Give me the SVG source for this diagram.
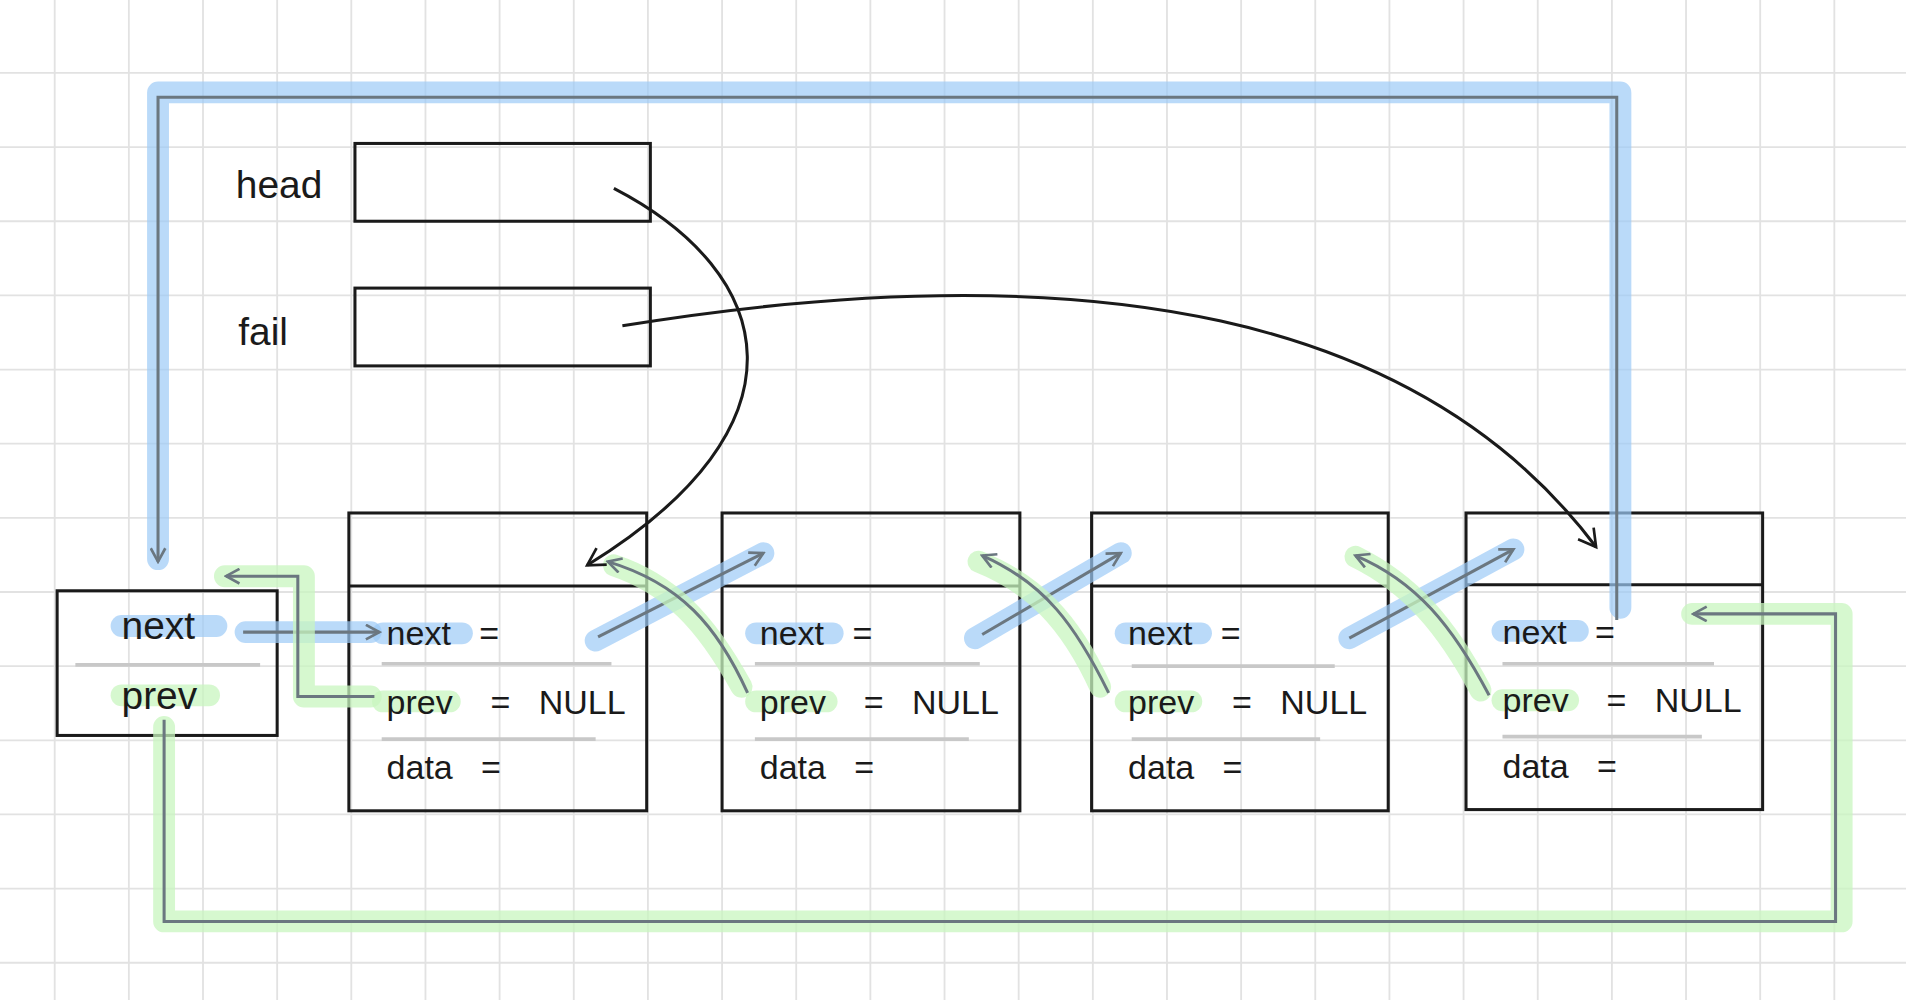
<svg xmlns="http://www.w3.org/2000/svg" width="1906" height="1000" viewBox="0 0 1906 1000">
<style>
.g{stroke:#e2e2e2;stroke-width:1.5}
.box{fill:none;stroke:#1a1a1a;stroke-width:2.5}
.t{font-family:"Liberation Sans",sans-serif;font-size:28px;fill:#1a1a1a;white-space:pre}
.big{font-size:32px}
.sep{stroke:#c8c8c8;stroke-width:3}
.hb{fill:none;stroke:#9ccbf6;stroke-opacity:.7;stroke-width:18;stroke-linecap:round;stroke-linejoin:round}
.hg{fill:none;stroke:#c8f5bf;stroke-opacity:.75;stroke-width:18;stroke-linecap:round;stroke-linejoin:round}
.ln{fill:none;stroke:#6b7780;stroke-width:2.5}
.ar{marker-end:url(#a)}
.bk{fill:none;stroke:#1a1a1a;stroke-width:2.5;marker-end:url(#b)}
</style>
<defs>
<marker id="a" markerWidth="14" markerHeight="14" refX="12" refY="7" orient="auto" markerUnits="userSpaceOnUse"><path d="M1,1 L12,7 L1,13" fill="none" stroke="#6b7780" stroke-width="2.2"/></marker>
<marker id="b" markerWidth="18" markerHeight="18" refX="15" refY="9" orient="auto" markerUnits="userSpaceOnUse"><path d="M1,1 L15,9 L1,17" fill="none" stroke="#1a1a1a" stroke-width="2.2"/></marker>
</defs>
<rect width="1906" height="1000" fill="#fff"/>
<g transform="scale(1.2156)">
<g id="grid">
<path class="g" d="M45,0V823M106,0V823M167,0V823M228,0V823M289,0V823M350,0V823M411,0V823M472,0V823M533,0V823M594,0V823M655,0V823M716,0V823M777,0V823M838,0V823M899,0V823M960,0V823M1021,0V823M1082,0V823M1143,0V823M1204,0V823M1265,0V823M1326,0V823M1387,0V823M1448,0V823M1509,0V823M0,60H1568M0,121H1568M0,182H1568M0,243H1568M0,304H1568M0,365H1568M0,426H1568M0,487H1568M0,548H1568M0,609H1568M0,670H1568M0,731H1568M0,792H1568"/>
</g>
<g id="head"><text class="t big" x="194" y="163">head</text><rect class="box" x="292" y="118" width="243" height="64"/></g>
<g id="tail"><text class="t big" x="196" y="284">fail</text><rect class="box" x="292" y="237" width="243" height="64"/></g>
<g id="sentinel">
<path class="hb" d="M100,515H178"/><path class="hg" d="M100,572H172"/>
<rect class="box" x="47" y="486" width="181" height="119"/>
<line class="sep" x1="62" y1="547" x2="214" y2="547"/>
<text class="t big" x="100" y="526">next</text><text class="t big" x="100" y="583">prev</text>
</g>
<g id="node1"><path class="hb" d="M315,521H380"/><path class="hg" d="M315,577H370"/><rect class="box" x="287" y="422" width="245" height="245"/><line class="box" x1="287" y1="482" x2="532" y2="482"/><line class="sep" x1="314" y1="546" x2="503" y2="546"/><line class="sep" x1="314" y1="608" x2="490" y2="608"/><text class="t" x="318" y="531">next   =</text><text class="t" x="318" y="587">prev    =   NULL</text><text class="t" x="318" y="641">data   =</text></g>
<g id="node2"><path class="hb" d="M622,521H685"/><path class="hg" d="M622,577H680"/><rect class="box" x="594" y="422" width="245" height="245"/><line class="box" x1="594" y1="482" x2="839" y2="482"/><line class="sep" x1="621" y1="546" x2="806" y2="546"/><line class="sep" x1="621" y1="608" x2="797" y2="608"/><text class="t" x="625" y="531">next   =</text><text class="t" x="625" y="587">prev    =   NULL</text><text class="t" x="625" y="641">data   =</text></g>
<g id="node3"><path class="hb" d="M926,521H988"/><path class="hg" d="M926,577H980"/><rect class="box" x="898" y="422" width="244" height="245"/><line class="box" x1="898" y1="482" x2="1142" y2="482"/><line class="sep" x1="931" y1="548" x2="1098" y2="548"/><line class="sep" x1="931" y1="608" x2="1086" y2="608"/><text class="t" x="928" y="531">next   =</text><text class="t" x="928" y="587">prev    =   NULL</text><text class="t" x="928" y="641">data   =</text></g>
<g id="node4"><path class="hb" d="M1236,519H1298"/><path class="hg" d="M1236,576H1290"/><rect class="box" x="1206" y="422" width="244" height="244"/><line class="box" x1="1206" y1="481" x2="1450" y2="481"/><line class="sep" x1="1236" y1="546" x2="1410" y2="546"/><line class="sep" x1="1236" y1="606" x2="1400" y2="606"/><text class="t" x="1236" y="530">next   =</text><text class="t" x="1236" y="586">prev    =   NULL</text><text class="t" x="1236" y="640">data   =</text></g>
<g id="connectors">
<path class="hb" d="M130,460V76H1333V500"/>
<path class="ln" d="M1330,510V80H130V436"/>
<path class="ln ar" d="M130,436V462"/>
<path class="hg" d="M135,598V758H1515V505H1392"/>
<path class="ln ar" d="M135,592V758H1510V505H1393"/>
<path class="hb" d="M202,520H305"/><path class="ln ar" d="M200,520H312"/>
<path class="hg" d="M305,573H250V474H185"/><path class="ln ar" d="M308,573H245V474H186"/>
<path class="hb" d="M490,527L628,455"/><path class="ln ar" d="M492,524L628,455"/>
<path class="hb" d="M802,525L922,455"/><path class="ln ar" d="M808,522L922,455"/>
<path class="hb" d="M1110,525L1245,452"/><path class="ln ar" d="M1110,525L1245,452"/>
<path class="hg" d="M610,565C580,510 550,480 505,465"/><path class="ln ar" d="M615,570C590,515 560,480 500,462"/>
<path class="hg" d="M905,565C880,510 850,480 805,462"/><path class="ln ar" d="M912,570C885,515 860,480 808,457"/>
<path class="hg" d="M1218,568C1190,515 1160,480 1115,458"/><path class="ln ar" d="M1225,572C1195,515 1165,478 1115,457"/>
<path class="bk" d="M505,155C640,225 670,350 483,465"/>
<path class="bk" d="M512,268C900,205 1170,260 1313,450"/>
</g>
</g>
</svg>
